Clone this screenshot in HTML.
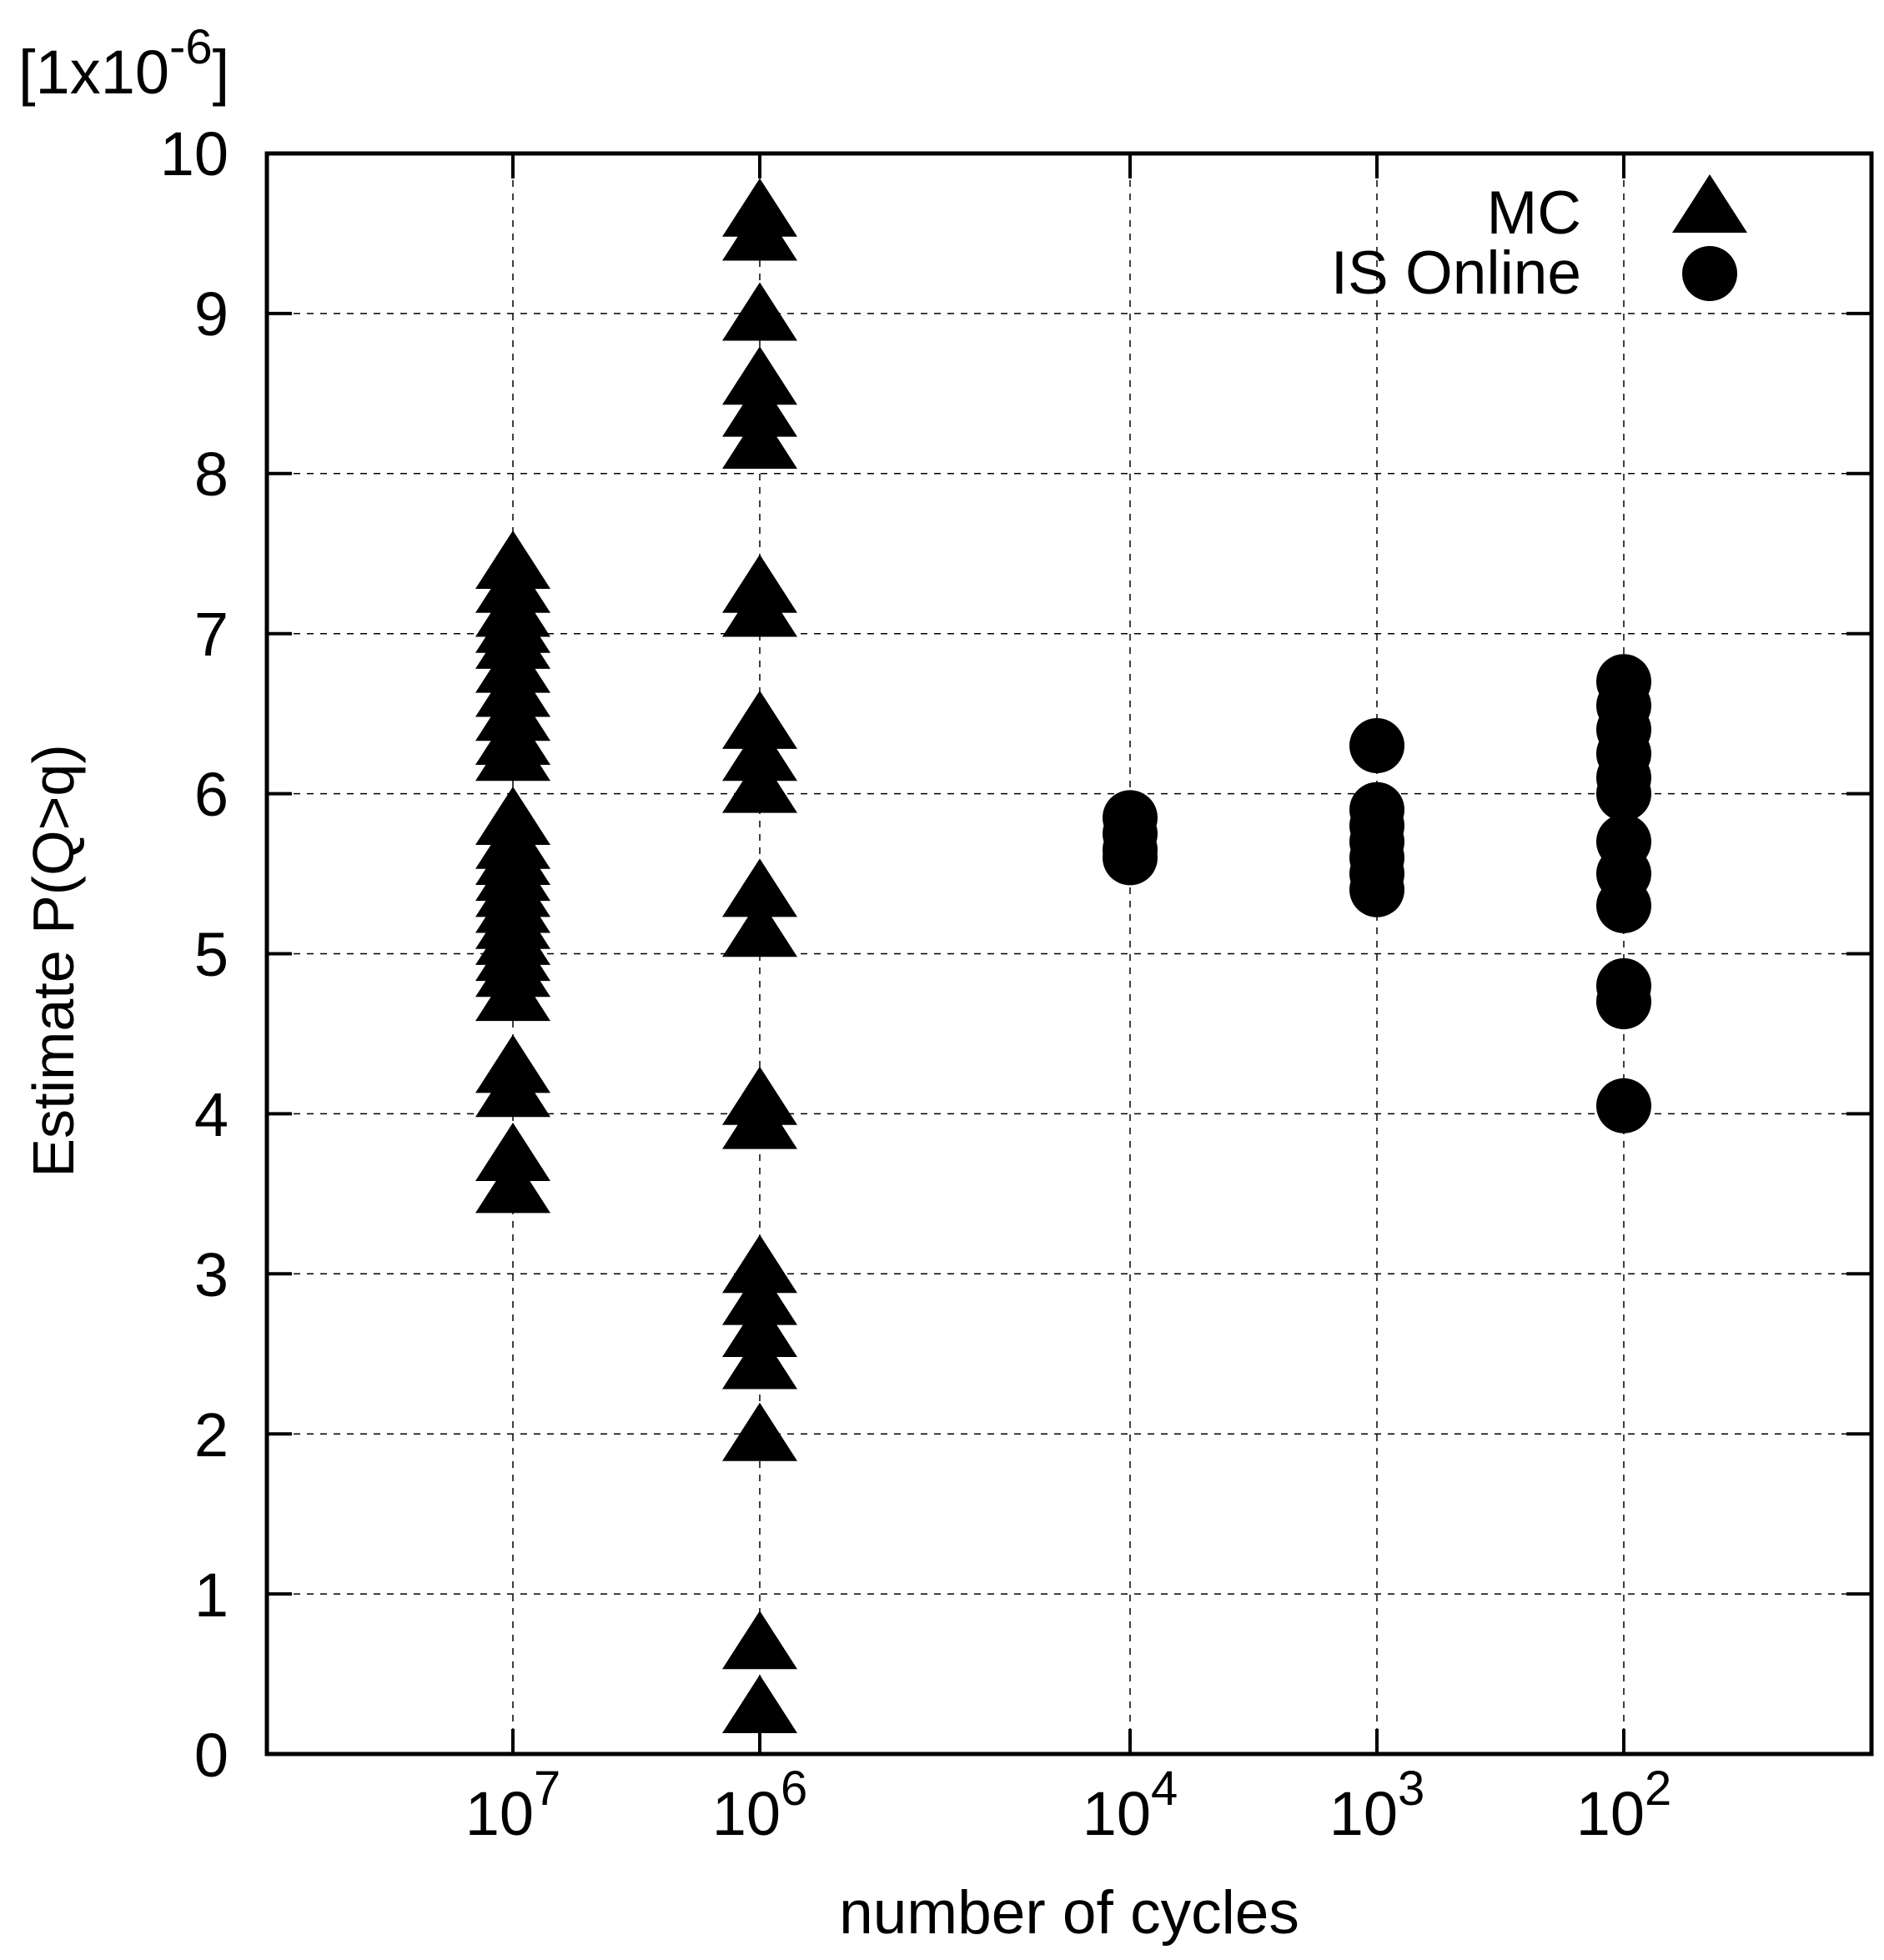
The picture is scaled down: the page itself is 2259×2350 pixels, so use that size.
<!DOCTYPE html>
<html><head><meta charset="utf-8"><style>body{margin:0;background:#fff}svg{display:block}</style></head><body>
<svg xmlns="http://www.w3.org/2000/svg" width="2259" height="2350" viewBox="0 0 2259 2350" font-family="Liberation Sans, sans-serif">
<defs>
<path id="tri" d="M0,-47 L45,23 L-45,23 Z" fill="#000"/>
<circle id="cir" r="33" fill="#000"/>
</defs>
<g stroke="#000" stroke-width="1.5" stroke-dasharray="8,8" fill="none">
<path d="M320,1911.1H2244M320,1719.2H2244M320,1527.3H2244M320,1335.4H2244M320,1143.5H2244M320,951.6H2244M320,759.7H2244M320,567.8H2244M320,375.9H2244"/>
<path d="M615,184V2103M911,184V2103M1355,184V2103M1651,184V2103M1947,184V2103"/>
</g>
<g stroke="#000" stroke-width="4">
<path d="M320,1911.1h30M320,1719.2h30M320,1527.3h30M320,1335.4h30M320,1143.5h30M320,951.6h30M320,759.7h30M320,567.8h30M320,375.9h30"/>
<path d="M2244,1911.1h-30M2244,1719.2h-30M2244,1527.3h-30M2244,1335.4h-30M2244,1143.5h-30M2244,951.6h-30M2244,759.7h-30M2244,567.8h-30M2244,375.9h-30"/>
<path d="M615,2103v-30M911,2103v-30M1355,2103v-30M1651,2103v-30M1947,2103v-30M615,184v30M911,184v30M1355,184v30M1651,184v30M1947,184v30"/>
</g>
<rect x="320" y="184" width="1924" height="1919" fill="none" stroke="#000" stroke-width="5"/>
<g font-size="74" text-anchor="end" fill="#000">
<text x="274" y="2130">0</text><text x="274" y="1938">1</text><text x="274" y="1746">2</text><text x="274" y="1554">3</text><text x="274" y="1362">4</text><text x="274" y="1170">5</text><text x="274" y="978">6</text><text x="274" y="786">7</text><text x="274" y="594">8</text><text x="274" y="402">9</text><text x="274" y="210">10</text>
</g>
<g font-size="74" text-anchor="middle" fill="#000">
<text x="615" y="2200">10<tspan dy="-36" font-size="58">7</tspan></text>
<text x="911" y="2200">10<tspan dy="-36" font-size="58">6</tspan></text>
<text x="1355" y="2200">10<tspan dy="-36" font-size="58">4</tspan></text>
<text x="1651" y="2200">10<tspan dy="-36" font-size="58">3</tspan></text>
<text x="1947" y="2200">10<tspan dy="-36" font-size="58">2</tspan></text>
<text x="1282" y="2318" font-size="73">number of cycles</text>
<text transform="translate(88,1152) rotate(-90)" font-size="70">Estimate P(Q&gt;q)</text>
</g>
<text x="22" y="112" font-size="74">[1x10<tspan dy="-36" font-size="58">-6</tspan><tspan dy="36">]</tspan></text>
<text x="1896" y="280" font-size="73" text-anchor="end">MC</text>
<text x="1896" y="352" font-size="73" text-anchor="end">IS Online</text>
<use href="#tri" x="2050" y="256"/>
<use href="#cir" x="2050" y="328"/>
<g id="pts"></g>
<script>
var y=function(v){return 2103-v*191.9};
var g=document.getElementById('pts'),ns='http://www.w3.org/2000/svg';
function add(id,x,vals){vals.forEach(function(v){var u=document.createElementNS(ns,'use');u.setAttribute('href','#'+id);u.setAttribute('x',x);u.setAttribute('y',y(v));g.appendChild(u);});}
add('tri',615,[7.4,7.25,7.1,7.0,6.9,6.75,6.6,6.45,6.3,6.2,5.8,5.65,5.55,5.45,5.35,5.25,5.15,5.05,4.95,4.85,4.7,4.25,4.1,3.7,3.5]);
add('tri',911,[9.6,9.45,8.95,8.55,8.35,8.15,7.25,7.1,6.4,6.2,6.0,5.35,5.1,4.05,3.9,3.0,2.8,2.6,2.4,1.95,0.65,0.25]);
add('cir',1355,[5.85,5.75,5.65,5.6]);
add('cir',1651,[6.3,5.9,5.8,5.7,5.6,5.5,5.4]);
add('cir',1947,[6.7,6.55,6.4,6.25,6.1,6.0,5.7,5.5,5.3,4.8,4.7,4.05]);
</script>
</svg>
</body></html>
